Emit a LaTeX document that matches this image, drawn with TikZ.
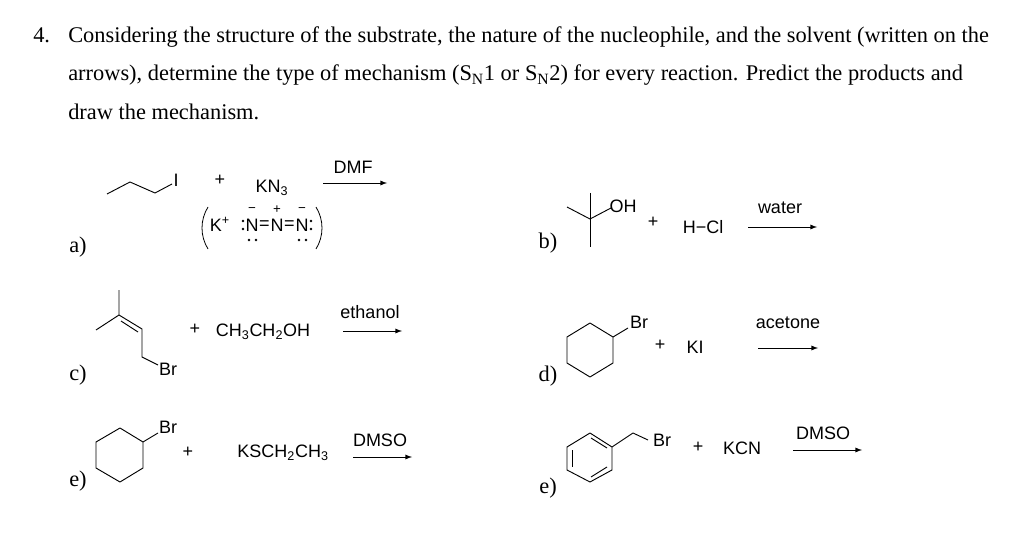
\documentclass[tikz,border=0pt]{standalone}
\usepackage{fontspec}
\setmainfont{Liberation Serif}
\newfontfamily\chemf{Liberation Sans}
\begin{document}
\begin{tikzpicture}[x=0.75pt,y=-0.75pt,
  bond/.style={line width=0.7pt,line join=round},
  chem/.style={font=\chemf\fontsize{13.5}{15}\selectfont,inner sep=0pt},
  head/.style={font=\fontsize{16.8}{19}\selectfont,inner sep=0pt,anchor=base west},
  lab/.style={font=\fontsize{16.8}{19}\selectfont,inner sep=0pt},
  rxn/.style={-latex,line width=0.7pt},
  chg/.style={font=\chemf\fontsize{10}{10}\selectfont,inner sep=0pt},
  dot/.style={fill=black,circle,inner sep=0pt,minimum size=2.2pt}]
\useasboundingbox (0,0) rectangle (1024,549);
% heading
\node[head] (n4) at (33,43) {4.};
\node[head] (h1) at (68,43) {Considering the structure of the substrate, the nature of the nucleophile, and the solvent (written on the};
\node[head] (h2) at (68,81) {arrows), determine the type of mechanism (S\textsubscript{N}1 or S\textsubscript{N}2) for every reaction. Predict the products and};
\node[head] (h3) at (68,120) {draw the mechanism.};
% labels
\node[lab] (la) at (78,247) {a)};
\node[lab] (lb) at (548,243) {b)};
\node[lab] (lc) at (78,375) {c)};
\node[lab] (ld) at (548,376) {d)};
\node[lab] (le1) at (78,481) {e)};
\node[lab] (le2) at (548,488) {e)};
% a)
\draw[bond] (107,194)--(130,182)--(155,193)--(172,184);
\node[chem] (aI) at (176,180) {I};
\node[chem] (ap) at (220,180) {+};
\node[chem] (akn) at (272,188) {KN\textsubscript{3}};
\node[chem] (adm) at (353,167) {DMF};
\coordinate (a1) at (323,183); \coordinate (a2) at (387,183);
\draw[rxn] (a1)--(a2);
\node[chem] (ak) at (220,224) {K\textsuperscript{+}};
\node[chem] (an1) at (252,225) {N};
\node[chem] (ae1) at (264.5,225) {=};
\node[chem] (an2) at (277,225) {N};
\node[chem] (ae2) at (289.5,225) {=};
\node[chem] (an3) at (302,225) {N};
\node[chg] (c1) at (252,210) {\textminus};
\node[chg] (c2) at (277,210) {+};
\node[chg] (c3) at (302,210) {\textminus};
\node[dot] (d1) at (243,221) {}; \node[dot] (d2) at (243,229) {};
\node[dot] (d3) at (249,240) {}; \node[dot] (d4) at (256,240) {};
\node[dot] (d5) at (299,240) {}; \node[dot] (d6) at (306,240) {};
\node[dot] (d7) at (311,221) {}; \node[dot] (d8) at (311,229) {};
\draw[line width=0.6pt] (208,207) .. controls (200,220) and (200,236) .. (208,249);
\draw[line width=0.6pt] (316,207) .. controls (324,220) and (324,236) .. (316,249);
% b)
\draw[bond] (590,193)--(590,247);
\draw[bond] (567,207)--(590,219)--(611,208);
\node[chem] (bOH) at (623,206) {OH};
\node[chem] (bp) at (653,222) {+};
\node[chem] (bhc) at (703,227) {H\textminus Cl};
\node[chem] (bw) at (780,208) {water};
\coordinate (b1) at (748,227); \coordinate (b2) at (817,227);
\draw[rxn] (b1)--(b2);
% c)
\draw[bond] (119,290)--(119,315)--(96,330);
\draw[bond] (119,315)--(142,329)--(142,357)--(158,365);
\draw[bond] (121,321)--(138,332);
\node[chem] (cBr) at (168,369) {Br};
\node[chem] (cp) at (195,329) {+};
\node[chem] (cet) at (263,332) {CH\textsubscript{3}CH\textsubscript{2}OH};
\node[chem] (cs) at (370,312) {ethanol};
\coordinate (c1a) at (343,331); \coordinate (c2a) at (402,331);
\draw[rxn] (c1a)--(c2a);
% d)
\draw[bond] (590,323)--(613,337)--(613,363)--(590,377)--(567,363)--(567,337)--cycle;
\draw[bond] (613,337)--(628,328);
\node[chem] (dBr) at (639,322) {Br};
\node[chem] (dp) at (660,345) {+};
\node[chem] (dki) at (695,347) {KI};
\node[chem] (ds) at (788,323) {acetone};
\coordinate (d1a) at (758,348); \coordinate (d2a) at (818,348);
\draw[rxn] (d1a)--(d2a);
% e left
\draw[bond] (120,428)--(143,442)--(143,468)--(120,482)--(96,468)--(96,442)--cycle;
\draw[bond] (143,442)--(158,433);
\node[chem] (eBr) at (168,427) {Br};
\node[chem] (ep) at (188,452) {+};
\node[chem] (eks) at (283,453) {KSCH\textsubscript{2}CH\textsubscript{3}};
\node[chem] (es) at (380,440) {DMSO};
\coordinate (e1a) at (353,457); \coordinate (e2a) at (412,457);
\draw[rxn] (e1a)--(e2a);
% e right
\draw[bond] (590,433)--(612,447)--(612,470)--(590,482)--(567,470)--(567,447)--cycle;
\draw[bond] (572,450)--(572,467);
\draw[bond] (591,438)--(607,448);
\draw[bond] (591,477)--(607,467);
\draw[bond] (612,447)--(633,433)--(648,440);
\node[chem] (fBr) at (662,440) {Br};
\node[chem] (fp) at (698,447) {+};
\node[chem] (fk) at (742,448) {KCN};
\node[chem] (fs) at (823,433) {DMSO};
\coordinate (f1a) at (793,450); \coordinate (f2a) at (862,450);
\draw[rxn] (f1a)--(f2a);
\end{tikzpicture}
\end{document}
